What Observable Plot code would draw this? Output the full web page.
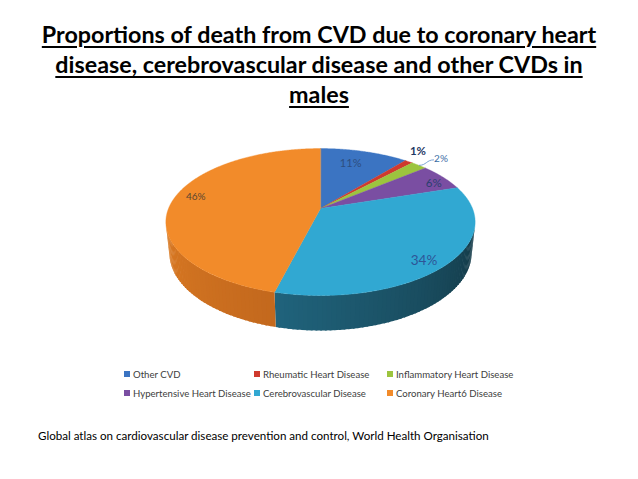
<!DOCTYPE html>
<html>
<head>
<meta charset="utf-8">
<script src="https://cdn.jsdelivr.net/npm/d3@7"></script>
<script src="https://cdn.jsdelivr.net/npm/@observablehq/plot@0.6"></script>
<style>
  html, body { margin: 0; padding: 0; background: #fff; }
  #wrap { position: relative; width: 638px; height: 479px; overflow: hidden; font-family: Lato, "Open Sans", sans-serif; }
  #title { position: absolute; left: 0; top: 19px; width: 638px; text-align: center; font-weight: bold; font-size: 23.3px; line-height: 30px; color: #000; text-decoration: underline; text-decoration-thickness: 2px; text-underline-offset: 3px; }
  #chart { position: absolute; left: 0; top: 120px; }
  #legend { position: absolute; left: 124px; top: 367px; font-size: 9.6px; color: #404040; display: grid; grid-template-columns: 130px 133px auto; row-gap: 5px; }
  #legend .it { display: flex; align-items: center; white-space: nowrap; height: 14px; }
  #legend .sw { width: 6px; height: 6px; margin-right: 3px; }
  #caption { position: absolute; left: 38px; top: 429px; font-size: 11.6px; color: #000; white-space: nowrap; }
</style>
</head>
<body>
<div id="wrap">
  <div id="title"></div>
  <div id="chart"></div>
  <div id="legend"></div>
  <div id="caption"></div>
</div>
<script>
// ---- data ----
const titleLines = [
  "Proportions of death from CVD due to coronary heart",
  "disease, cerebrovascular disease and other CVDs in",
  "males"
];
const categories = ["Other CVD", "Rheumatic Heart Disease", "Inflammatory Heart Disease",
                    "Hypertensive Heart Disease", "Cerebrovascular Disease", "Coronary Heart6 Disease"];
const values = [11, 1, 2, 6, 34, 46];
const leaderFor = ["Inflammatory Heart Disease"];
const caption = "Global atlas on cardiovascular disease prevention and control, World Health Organisation";

// ---- styles ----
const topColors  = ["#3b74c2", "#cf3a2e", "#9cc43e", "#7a4ea2", "#31a8d2", "#f28b2a"];
const sideLight  = ["#2a5590", "#9a2a22", "#73932e", "#5a3a7a", "#2a86a8", "#de7d24"];
const sideDark   = ["#14304f", "#551612", "#3f501a", "#311f43", "#12333f", "#9e4c14"];
const labelColors = ["#2d4e80", "#1f3864", "#3a6ea5", "#2a3f6f", "#2e5597", "#5a4630"];
const labelSizes  = [11, 11.5, 10, 11.5, 13.5, 10];
const labelBold   = [false, true, false, false, false, false];
const labelDx     = [-8, -6, 5, 8, -2, 1];
const labelDy     = [4, -2, 1, 2, 6, -4];

// ---- perspective projection of a tilted disc ----
const S = 152, D = 4.81, sinP = 0.467, cosP = 0.885, H = 0.233;
function proj(theta, r, h) {
  const X = r * Math.sin(theta), Z = r * Math.cos(theta);
  const v = Z * sinP + h * cosP;
  const w = D + Z * cosP - h * sinP;
  return { x: S * X * D / w, y: -S * v * D / w };
}
const rad = d => d * Math.PI / 180;
const theta0 = Math.acos(-1 / (D * cosP)); // start of visible side wall
const theta1 = 2 * Math.PI - theta0;

const arcs = d3.pie().sort(null).startAngle(0).endAngle(2 * Math.PI)(values);

// side wall strips (slightly overlapping to hide seams)
const sideRows = [];
arcs.forEach((a, i) => {
  const s = Math.max(a.startAngle, theta0), e = Math.min(a.endAngle, theta1);
  if (e <= s) return;
  const n = Math.max(1, Math.ceil((e - s) / rad(1.5)));
  for (let k = 0; k < n; k++) {
    const ta = s + (e - s) * k / n;
    const tb = Math.min(e, s + (e - s) * (k + 1) / n + rad(0.6));
    const tm = s + (e - s) * (k + 0.5) / n;
    const t = (tm - Math.PI / 2) / Math.PI;
    const c = d3.interpolateRgb(sideDark[i], sideLight[i])(Math.max(0, Math.min(1, t)));
    const key = i + "-" + k;
    [[ta, 0], [tb, 0], [tb, -H], [ta, -H]].forEach(([th, hh]) => {
      const p = proj(th, 1, hh);
      sideRows.push({ key, x: p.x, y: p.y, c });
    });
  }
});

// top faces
const topRows = [];
arcs.forEach((a, i) => {
  const key = categories[i];
  const c = topColors[i];
  const p0 = proj(0, 0, 0);
  topRows.push({ key, x: p0.x, y: p0.y, c });
  const n = Math.max(2, Math.ceil((a.endAngle - a.startAngle) / rad(0.5)));
  for (let k = 0; k <= n; k++) {
    const th = a.startAngle + (a.endAngle - a.startAngle) * k / n;
    const p = proj(th, 1, 0);
    topRows.push({ key, x: p.x, y: p.y, c });
  }
});

// labels
const labelRows = arcs.map((a, i) => {
  const mid = (a.startAngle + a.endAngle) / 2;
  const inside = values[i] >= 5;
  const p = proj(mid, inside ? 0.85 : 1.2, 0);
  return { x: p.x + labelDx[i], y: p.y + labelDy[i], text: values[i] + "%", c: labelColors[i], s: labelSizes[i], bold: labelBold[i] };
});
const leaderRows = [];
arcs.forEach((a, i) => {
  if (!leaderFor.includes(categories[i])) return;
  const mid = (a.startAngle + a.endAngle) / 2;
  const p1 = proj(mid, 1.0, 0);
  const L = labelRows[i];
  leaderRows.push({ x1: p1.x, y1: p1.y, x2: L.x - 7, y2: L.y + 1, c: labelColors[i] });
});

const plot = Plot.plot({
  width: 638,
  height: 230,
  margin: 0,
  x: { axis: null, domain: [-320, 318] },
  y: { axis: null, domain: [-88, 142], reverse: true },
  color: { type: "identity" },
  marks: [
    Plot.line(sideRows, { x: "x", y: "y", z: "key", fill: "c", curve: "linear-closed" }),
    Plot.line(topRows, { x: "x", y: "y", z: "key", fill: "c", stroke: "c", strokeWidth: 0.4, curve: "linear-closed" }),
    Plot.link(leaderRows, { x1: "x1", y1: "y1", x2: "x2", y2: "y2", stroke: "#5b8fc9", strokeWidth: 0.8, curve: "bump-x" }),
    Plot.text(labelRows.filter(d => !d.bold), { x: "x", y: "y", text: "text", fill: "c", fontSize: "s", fontFamily: "Lato" }),
    Plot.text(labelRows.filter(d => d.bold), { x: "x", y: "y", text: "text", fill: "c", fontSize: "s", fontWeight: "bold", fontFamily: "Lato" })
  ]
});
document.getElementById("chart").appendChild(plot);

// title
document.getElementById("title").innerHTML = titleLines.map(l => `<span>${l}</span>`).join("<br>");
// legend
const lg = document.getElementById("legend");
categories.forEach((c, i) => {
  const it = document.createElement("div");
  it.className = "it";
  it.innerHTML = `<span class="sw" style="background:${topColors[i]}"></span><span>${c}</span>`;
  lg.appendChild(it);
});
document.getElementById("caption").textContent = caption;
</script>
</body>
</html>
